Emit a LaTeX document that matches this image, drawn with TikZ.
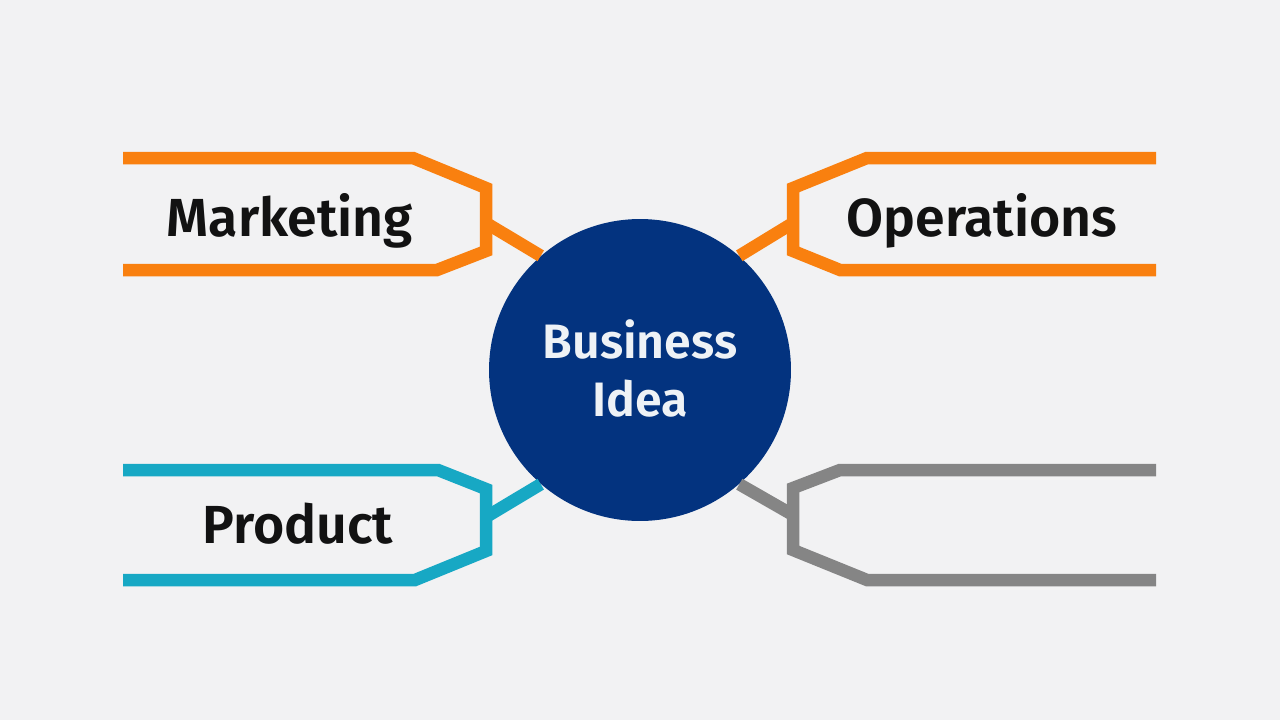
\documentclass[tikz,border=0pt]{standalone}
\usepackage{fontspec}
\setmainfont[BoldFont={Fira Sans SemiBold}]{Fira Sans}
\usepackage{xcolor}

\definecolor{paper}{HTML}{F2F2F3}
\definecolor{navy}{HTML}{03337F}
\definecolor{ideatext}{HTML}{EEF2F6}
\definecolor{orangeline}{HTML}{F9800F}
\definecolor{tealline}{HTML}{17A8C4}
\definecolor{grayline}{HTML}{858585}

\tikzset{
  bracket/.style={line width=0.25cm,line join=miter},
  spoke/.style={line width=0.25cm},
  label/.style={anchor=base,text=black!93,font=\fontsize{30.5}{36}\selectfont\bfseries},
  ideaword/.style={anchor=base,text=ideatext,font=\fontsize{27.5}{33}\selectfont\bfseries},
  idea/.style={circle,fill=navy,minimum size=6.04cm,inner sep=0pt}
}

\begin{document}
\begin{tikzpicture}[x=0.02cm,y=-0.02cm]
    \fill[paper] (0, 0) rectangle (1280, 720);
    \useasboundingbox (0, 0) rectangle (1280, 720);

    \coordinate (marketing_joint) at (486, 223);
    \coordinate (operations_joint) at (793, 223);
    \coordinate (product_joint) at (486, 517);
    \coordinate (blank_joint) at (793, 515);

    \node[idea] (business_idea) at (640, 370) {};
    \node[ideaword] (business) at (640, 358) {Business};
    \node[ideaword] (idea_word) at (640, 416) {Idea};

    \node[label] (marketing) at (290, 236) {Marketing};
    \node[label] (operations) at (982, 236) {Operations};
    \node[label] (product) at (298, 543) {Product};

    \draw[spoke,orangeline] (marketing_joint) -- (business_idea.131);
    \draw[spoke,orangeline] (operations_joint) -- (business_idea.49);
    \draw[spoke,tealline]   (product_joint) -- (business_idea.229);
    \draw[spoke,grayline]   (blank_joint) -- (business_idea.311);

    \draw[bracket,orangeline] (123, 158) -- (413, 158) -- (486, 188) -- (486, 251) -- (437, 270) -- (123, 270);
    \draw[bracket,orangeline] (1156, 158) -- (867, 158) -- (793, 188) -- (793, 251) -- (840, 270) -- (1156, 270);
    \draw[bracket,tealline]   (123, 470) -- (438, 470) -- (486, 489) -- (486, 551) -- (415, 580) -- (123, 580);
    \draw[bracket,grayline]   (1156, 470) -- (840, 470) -- (793, 488) -- (793, 550) -- (867, 580) -- (1156, 580);

  \end{tikzpicture}
\end{document}
